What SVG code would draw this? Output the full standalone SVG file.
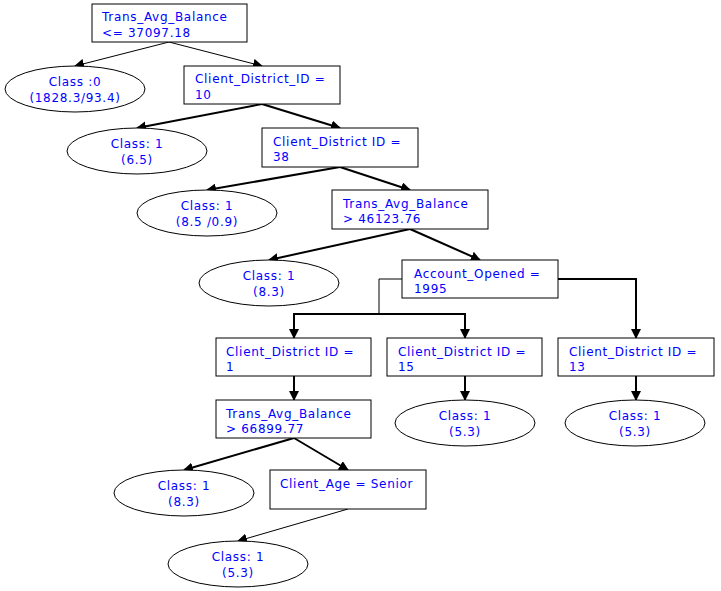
<svg xmlns="http://www.w3.org/2000/svg" width="721" height="591" viewBox="0 0 721 591">
<style>
rect{fill:#fff;stroke:#000;stroke-width:1}
ellipse{fill:#fff;stroke:#000;stroke-width:1}
text{font-family:"DejaVu Sans",Verdana,sans-serif;font-size:12px;fill:#0000ff;letter-spacing:0.7px}
.m{text-anchor:middle}
.c line,.c path{stroke:#000;fill:none;stroke-width:2}
.c .t{stroke-width:1}
</style>
<defs><marker id="a" markerWidth="10" markerHeight="10" refX="9" refY="5" orient="auto" markerUnits="userSpaceOnUse"><path d="M0,0L10,5L0,10z" fill="#000"/></marker></defs>
<rect x="0" y="0" width="721" height="591" style="stroke:none"/>
<g class="c">
<line class="t" x1="169" y1="42" x2="75" y2="66" marker-end="url(#a)"/>
<line class="t" x1="169" y1="42" x2="262" y2="66" marker-end="url(#a)"/>
<line x1="262" y1="104" x2="137" y2="128" marker-end="url(#a)"/>
<line x1="262" y1="104" x2="340" y2="128" marker-end="url(#a)"/>
<line x1="340" y1="167" x2="207" y2="190" marker-end="url(#a)"/>
<line x1="340" y1="167" x2="410" y2="190" marker-end="url(#a)"/>
<line x1="410" y1="229" x2="269" y2="260" marker-end="url(#a)"/>
<line x1="410" y1="229" x2="480" y2="260" marker-end="url(#a)"/>
<path class="t" d="M402,279H379V314"/>
<path d="M294,338V314H465V338" marker-end="url(#a)"/>
<path d="M294,314V338" marker-end="url(#a)"/>
<path d="M558,279H636V338" marker-end="url(#a)"/>
<line x1="294" y1="376" x2="294" y2="400" marker-end="url(#a)"/>
<line x1="465" y1="376" x2="465" y2="400" marker-end="url(#a)"/>
<line x1="636" y1="376" x2="636" y2="400" marker-end="url(#a)"/>
<line x1="294" y1="438" x2="184" y2="470" marker-end="url(#a)"/>
<line x1="294" y1="438" x2="348" y2="470" marker-end="url(#a)"/>
<line class="t" x1="348" y1="509" x2="238" y2="541" marker-end="url(#a)"/>
</g>
<g id="n1"><rect x="92" y="4" width="155" height="38"/><text x="102" y="21">Trans_Avg_Balance</text><text x="102" y="37">&lt;= 37097.18</text></g>
<g id="n2"><ellipse cx="75" cy="89" rx="70" ry="23"/><text class="m" x="75" y="86">Class :0</text><text class="m" x="75" y="102">(1828.3/93.4)</text></g>
<g id="n3"><rect x="184" y="66" width="156" height="38"/><text x="195" y="83">Client_District_ID =</text><text x="195" y="99">10</text></g>
<g id="n4"><ellipse cx="137" cy="151" rx="70" ry="23"/><text class="m" x="137" y="148">Class: 1</text><text class="m" x="137" y="164">(6.5)</text></g>
<g id="n5"><rect x="262" y="128" width="156" height="39"/><text x="273" y="146">Client_District ID =</text><text x="273" y="161">38</text></g>
<g id="n6"><ellipse cx="207" cy="213" rx="70" ry="23"/><text class="m" x="207" y="210">Class: 1</text><text class="m" x="207" y="226">(8.5 /0.9)</text></g>
<g id="n7"><rect x="332" y="190" width="156" height="39"/><text x="343" y="208">Trans_Avg_Balance</text><text x="343" y="223">&gt; 46123.76</text></g>
<g id="n8"><ellipse cx="269" cy="283" rx="70" ry="23"/><text class="m" x="269" y="280">Class: 1</text><text class="m" x="269" y="296">(8.3)</text></g>
<g id="n9"><rect x="402" y="260" width="156" height="38"/><text x="414" y="278">Account_Opened =</text><text x="414" y="293">1995</text></g>
<g id="n10"><rect x="216" y="338" width="155" height="38"/><text x="226" y="356">Client_District ID =</text><text x="226" y="371">1</text></g>
<g id="n11"><rect x="387" y="338" width="155" height="38"/><text x="398" y="356">Client_District ID =</text><text x="398" y="371">15</text></g>
<g id="n12"><rect x="558" y="338" width="156" height="38"/><text x="569" y="356">Client_District ID =</text><text x="569" y="371">13</text></g>
<g id="n13"><rect x="216" y="400" width="155" height="38"/><text x="226" y="418">Trans_Avg_Balance</text><text x="226" y="433">&gt; 66899.77</text></g>
<g id="n14"><ellipse cx="465" cy="423" rx="70" ry="23"/><text class="m" x="465" y="420">Class: 1</text><text class="m" x="465" y="436">(5.3)</text></g>
<g id="n15"><ellipse cx="635" cy="423" rx="70" ry="23"/><text class="m" x="635" y="420">Class: 1</text><text class="m" x="635" y="436">(5.3)</text></g>
<g id="n16"><ellipse cx="184" cy="493" rx="70" ry="23"/><text class="m" x="184" y="490">Class: 1</text><text class="m" x="184" y="506">(8.3)</text></g>
<g id="n17"><rect x="270" y="470" width="156" height="39"/><text x="280" y="488">Client_Age = Senior</text></g>
<g id="n18"><ellipse cx="238" cy="564" rx="70" ry="23"/><text class="m" x="238" y="561">Class: 1</text><text class="m" x="238" y="577">(5.3)</text></g>
</svg>
